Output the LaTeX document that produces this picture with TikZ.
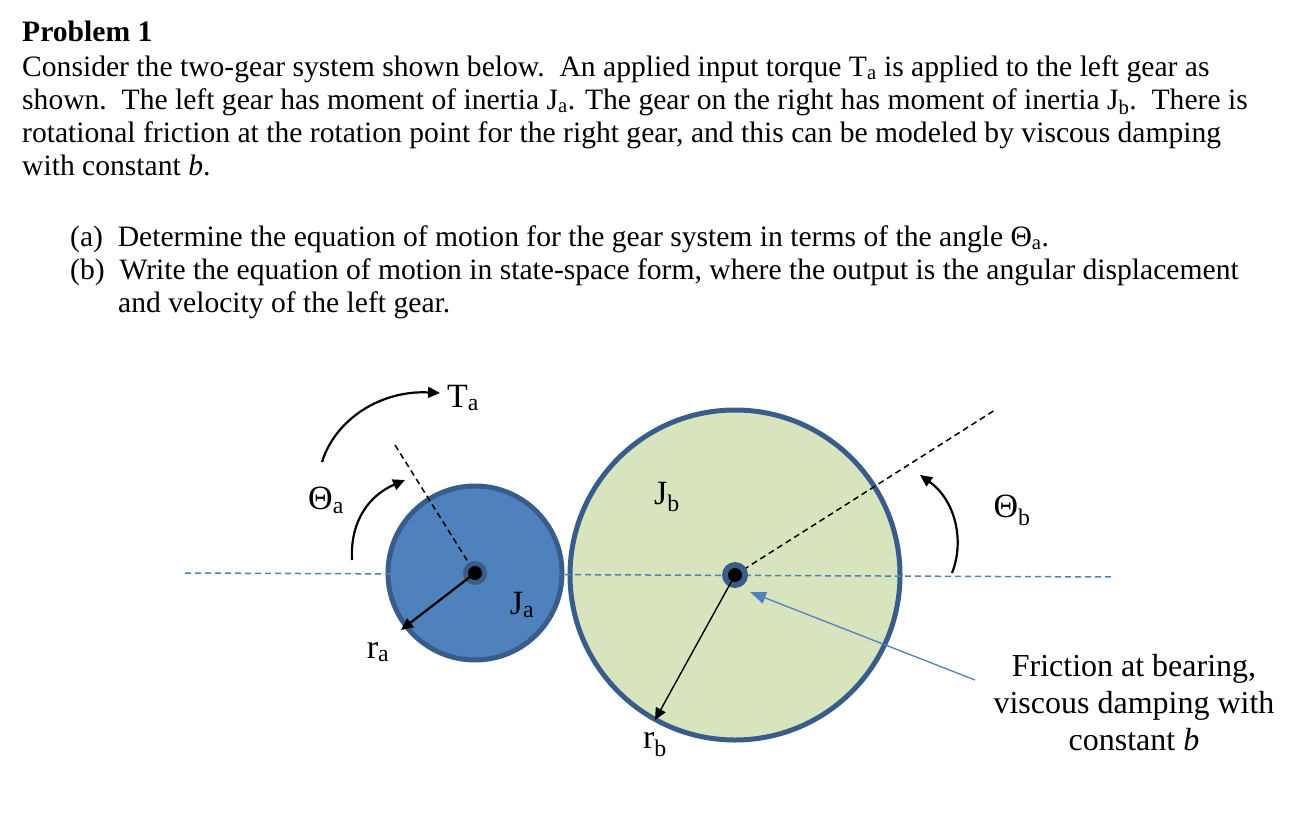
\documentclass[tikz,border=0pt]{standalone}
\usepackage{fontspec}
\setmainfont{Liberation Serif}
\usetikzlibrary{arrows.meta}
\definecolor{gblue}{HTML}{4F81BD}
\definecolor{ggreen}{HTML}{D7E4BD}
\definecolor{gedge}{HTML}{385D8A}
\tikzset{txt/.style={anchor=base west,inner sep=0pt,font=\fontsize{29.6}{32}\selectfont},
lbl/.style={inner sep=0pt,font=\fontsize{34}{36}\selectfont},
arr/.style={line width=2.2pt,-{Triangle[length=12pt,width=11pt]}},
gear/.style={draw=gedge,line width=5pt},
dline/.style={line width=1.5pt,dash pattern=on 6pt off 4pt}}
\begin{document}
\begin{tikzpicture}[x=1pt,y=-1pt]
\useasboundingbox (0,0) rectangle (1313,819);
\node[txt,font=\fontsize{29.6}{32}\selectfont\bfseries] (title) at (22,41) {Problem 1};
\node[txt] (p1) at (22,76) {Consider the two-gear system shown below.\ \ An applied input torque T\textsubscript{a} is applied to the left gear as};
\node[txt] (p2) at (22,109) {shown.\ \ The left gear has moment of inertia J\textsubscript{a}. The gear on the right has moment of inertia J\textsubscript{b}.\ \ There is};
\node[txt] (p3) at (22,142) {rotational friction at the rotation point for the right gear, and this can be modeled by viscous damping};
\node[txt] (p4) at (22,175) {with constant \textit{b}.};
\node[txt] (qa) at (70,246) {(a)\ \ Determine the equation of motion for the gear system in terms of the angle Θ\textsubscript{a}.};
\node[txt] (qb) at (70,279) {(b)\ \ Write the equation of motion in state-space form, where the output is the angular displacement};
\node[txt] (qc) at (118,312) {and velocity of the left gear.};
% gears
\draw[gear,fill=ggreen] (735,575) circle (165);
\draw[gear,fill=gblue] (475,573) circle (87);
\draw[dline,draw=gblue] (185,573) -- (1115,577);
\coordinate (ca) at (475,573);
\coordinate (cb) at (735,575);
\draw[dline] (395,445) -- (ca);
\draw[dline] (cb) -- (995,410);
\fill[gedge] (ca) circle (12); \fill[black] (ca) circle (7);
\fill[gedge] (cb) circle (13); \fill[black] (cb) circle (7);
\coordinate (ra) at (401,630);
\coordinate (rb) at (655,720);
\draw[arr] (ca) -- (ra);
\draw[line width=1.4pt,-{Triangle[length=12pt,width=11pt]}] (cb) -- (rb);
\node[lbl] (lra) at (378,652) {r\textsubscript{a}};
\node[lbl] (lrb) at (655,745) {r\textsubscript{b}};
\node[lbl] (lja) at (522,605) {J\textsubscript{a}};
\node[lbl] (ljb) at (667,497) {J\textsubscript{b}};
\node[lbl] (lta) at (463,398) {T\textsubscript{a}};
\node[lbl] (lqa) at (326,500) {Θ\textsubscript{a}};
\node[lbl] (lqb) at (1012,510) {Θ\textsubscript{b}};
\draw[arr] (352,560) .. controls (350,520) and (370,495) .. (405,480);
\draw[arr] (322,462) .. controls (335,420) and (380,390) .. (440,393);
\draw[arr] (952,573) .. controls (965,540) and (955,500) .. (920,475);
\draw[draw=gblue,line width=1.3pt,-{Triangle[length=16pt,width=12pt]}] (975,680) -- (750,592);
\node[lbl,align=center,font=\fontsize{32}{37}\selectfont] (fr) at (1134,703) {Friction at bearing,\\viscous damping with\\constant \textit{b}};
\end{tikzpicture}
\end{document}
